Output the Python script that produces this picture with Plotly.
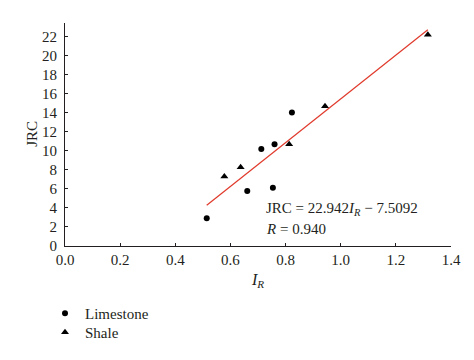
import plotly.graph_objects as go

limestone_x = [0.514, 0.661, 0.754, 0.712, 0.760, 0.823]
limestone_y = [2.9, 5.77, 6.12, 10.18, 10.67, 14.0]
shale_x = [0.578, 0.637, 0.813, 0.943, 1.316]
shale_y = [7.28, 8.26, 10.67, 14.66, 22.18]
slope = 22.942
intercept = -7.5092
x_ticks = [0.0, 0.2, 0.4, 0.6, 0.8, 1.0, 1.2, 1.4]
y_ticks = list(range(0, 23, 2))

all_x = limestone_x + shale_x
fit_x = [min(all_x), max(all_x)]
fit_y = [slope * v + intercept for v in fit_x]

FONT = "Liberation Serif"
W, H = 466, 352
fig = go.Figure()
fig.add_trace(go.Scatter(x=fit_x, y=fit_y, mode="lines",
                         line=dict(color="#e0392b", width=1.2), showlegend=False))
fig.add_trace(go.Scatter(x=limestone_x, y=limestone_y, mode="markers", name="Limestone",
                         legend="legend",
                         marker=dict(symbol="circle", size=6, color="black")))
fig.add_trace(go.Scatter(x=shale_x, y=shale_y, mode="markers", name="Shale",
                         legend="legend2",
                         marker=dict(symbol="triangle-up", size=7, color="black")))

leg_common = dict(xref="container", yref="container", xanchor="left", yanchor="top",
                  font=dict(family=FONT, size=15), bgcolor="rgba(0,0,0,0)")
fig.update_layout(
    width=W, height=H,
    margin=dict(l=57, r=23, t=15, b=114, autoexpand=False),
    plot_bgcolor="white", paper_bgcolor="white",
    font=dict(family=FONT, size=15, color="#231f20"),
    showlegend=True,
    legend=dict(x=37 / W, y=1 - 289 / H, **leg_common),
    legend2=dict(x=37 / W, y=1 - 308 / H, **leg_common),
    xaxis=dict(range=[0, 1.4], tickvals=x_ticks, ticktext=[f"{v:.1f}" for v in x_ticks],
               showline=True, linecolor="#231f20", linewidth=1, showgrid=False, zeroline=False,
               ticks="inside", ticklen=3, tickcolor="#231f20", ticklabelstandoff=0,
               title=dict(text="<i>I</i><sub><i>R</i></sub>", font=dict(family=FONT, size=16), standoff=6)),
    yaxis=dict(range=[0, 23.4], tickvals=y_ticks,
               showline=True, linecolor="#231f20", linewidth=1, showgrid=False, zeroline=False,
               ticks="inside", ticklen=3, tickcolor="#231f20", ticklabelstandoff=4),
)
fig.add_annotation(x=-0.0855, y=0.503, xref="paper", yref="paper", xanchor="center", yanchor="middle",
                   text="JRC", textangle=-90, showarrow=False, font=dict(family=FONT, size=15))
fig.add_annotation(x=0.723, y=3.85, xref="x", yref="y", xanchor="left", yanchor="middle",
                   text="JRC = 22.942<i>I</i><sub><i>R</i></sub> − 7.5092", showarrow=False,
                   font=dict(family=FONT, size=15))
fig.add_annotation(x=0.723, y=1.75, xref="x", yref="y", xanchor="left", yanchor="middle",
                   text="<i>R</i> = 0.940", showarrow=False, font=dict(family=FONT, size=15))
fig.write_html("out.html")
